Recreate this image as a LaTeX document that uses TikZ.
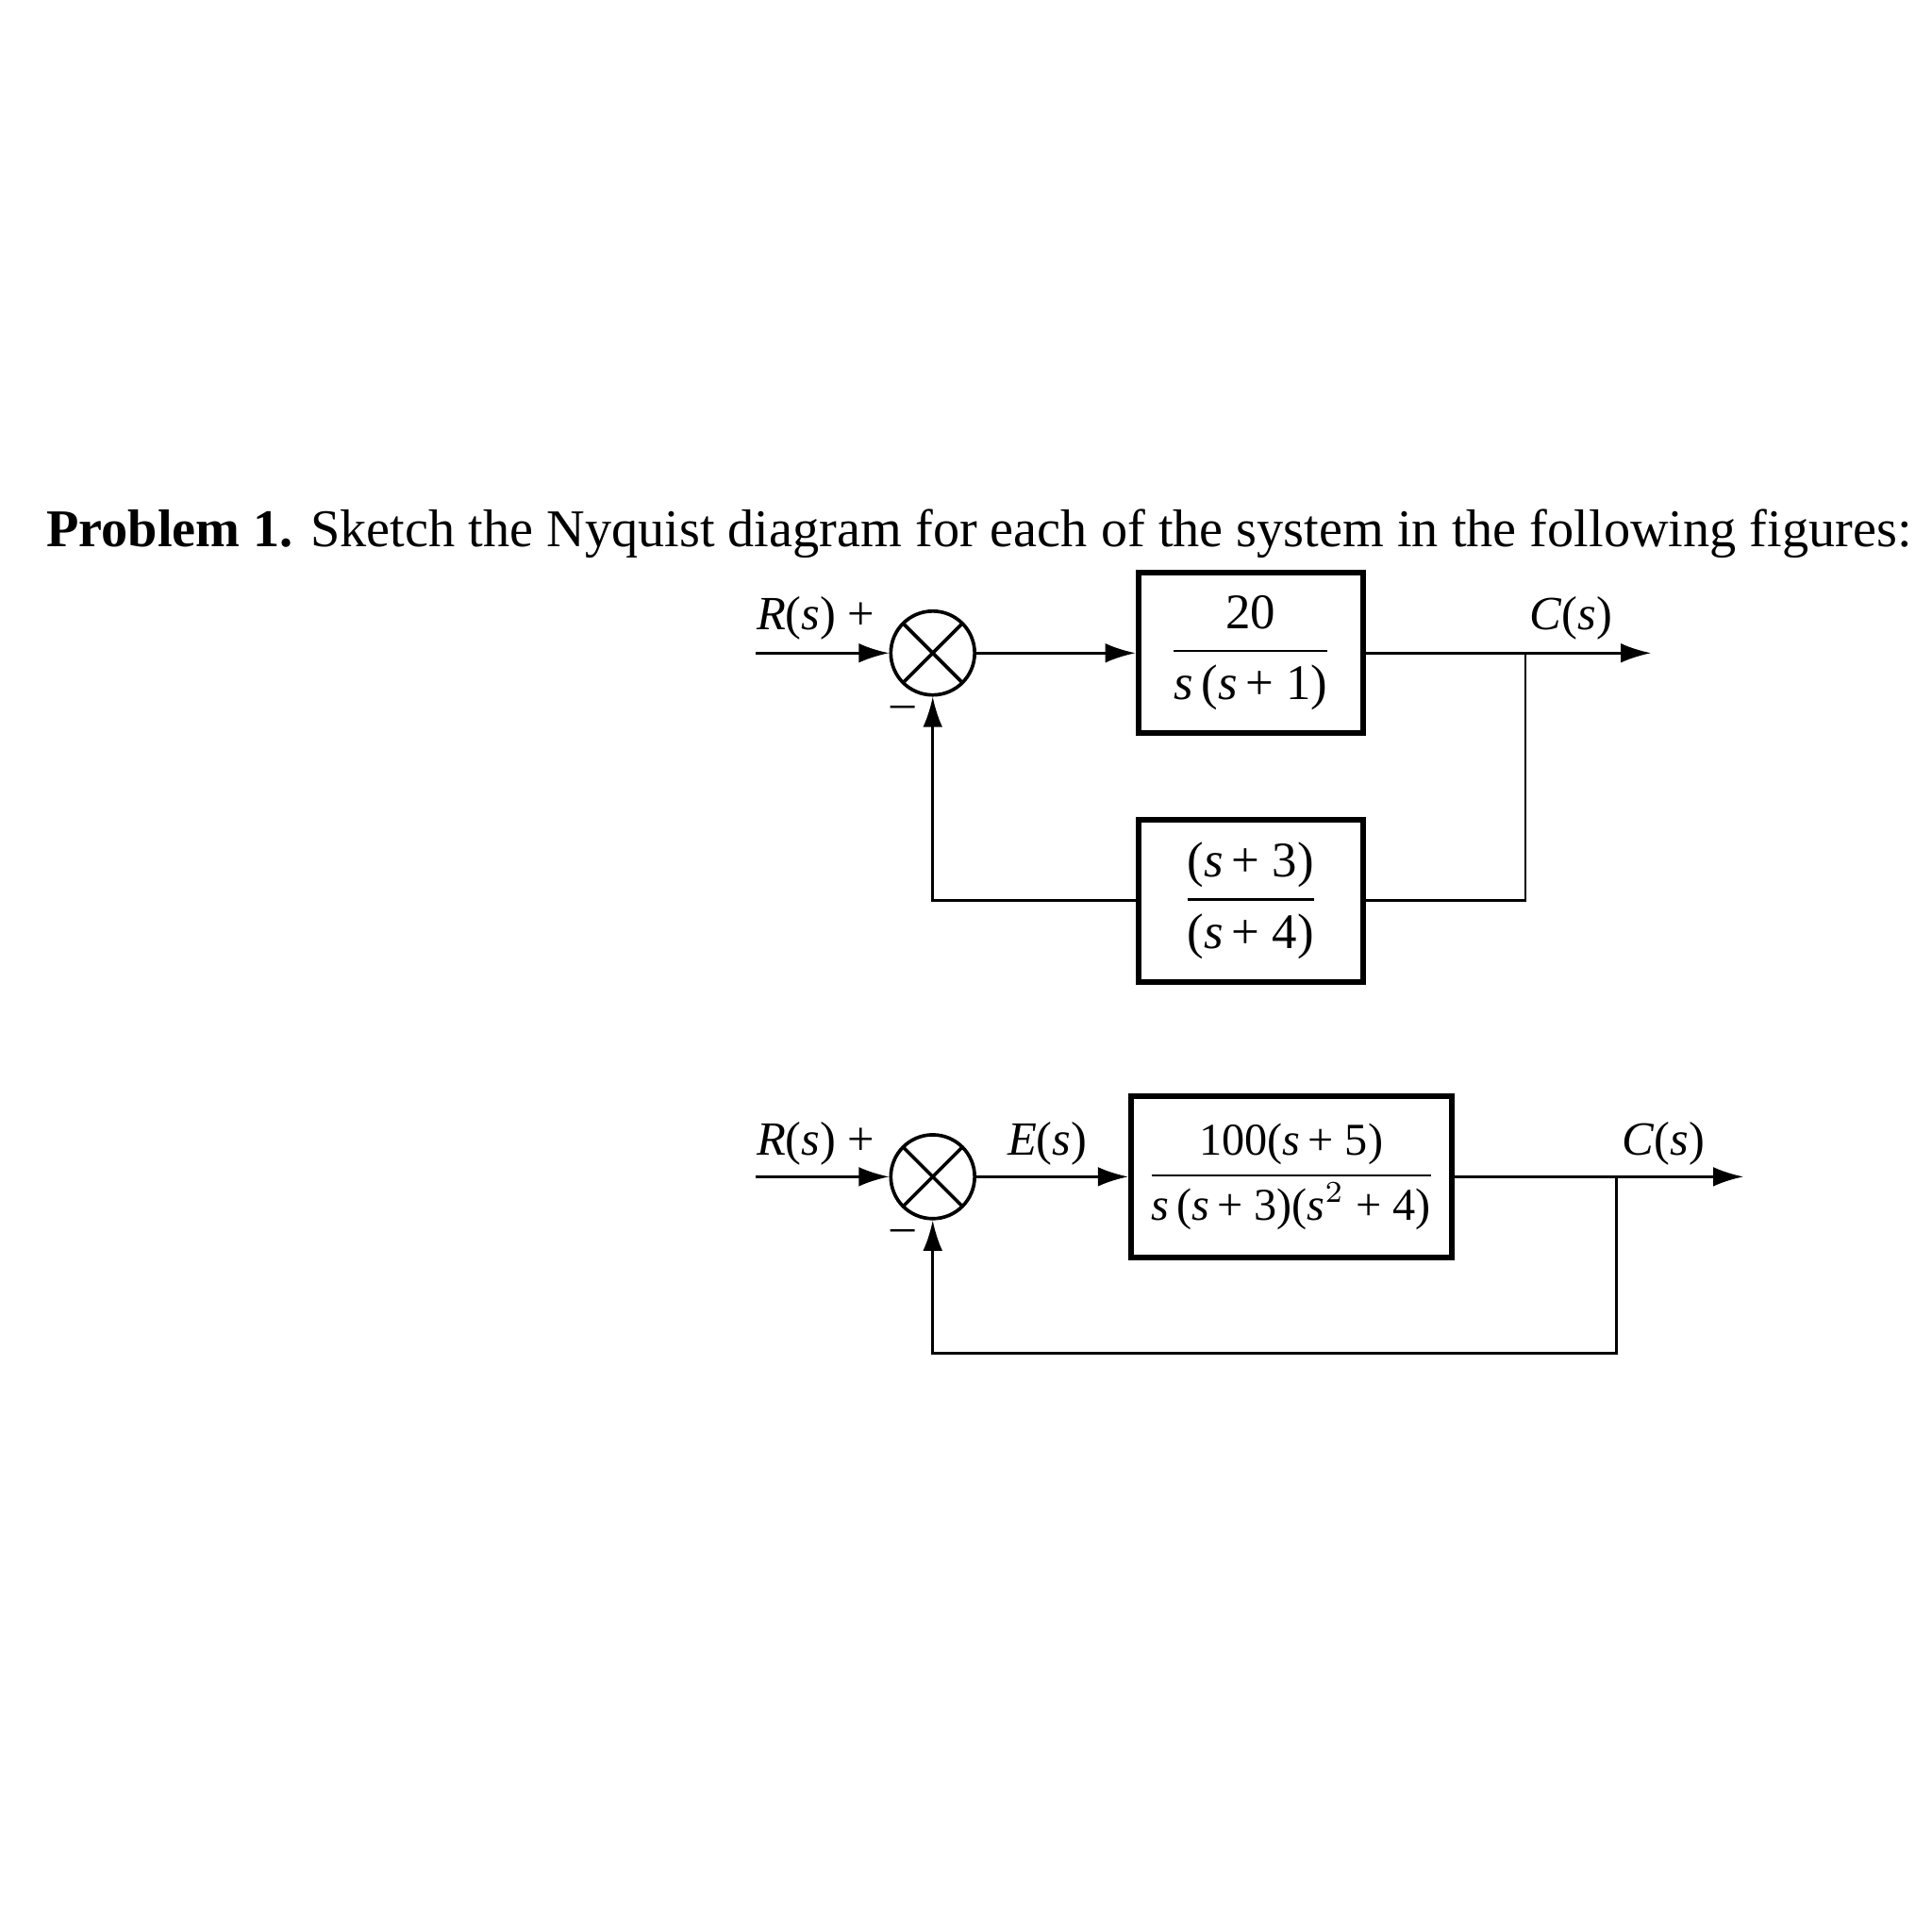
\documentclass[tikz,border=0pt]{standalone}
\usetikzlibrary{arrows.meta}
\usepackage{amsmath}
\usepackage{fontspec}
\setmainfont{Liberation Serif}
\newcommand\vs{\textit{s}}
\newcommand\fr[2]{\ensuremath{\dfrac{\text{#1}}{\text{#2}}}}
\begin{document}
\begin{tikzpicture}[x=0.01cm,y=-0.01cm,
  ln/.style={line width=0.6pt},
  arr/.style={ln,-{Latex[length=7pt,width=4.5pt]}},
  blk/.style={draw,line width=1.3pt,inner sep=0pt},
  sum/.style={draw,circle,line width=0.8pt,minimum size=0.68cm,inner sep=0pt,path picture={\draw[line width=0.8pt](path picture bounding box.south west)--(path picture bounding box.north east)(path picture bounding box.north west)--(path picture bounding box.south east);}},
  lab/.style={font=\fontsize{11}{13}\selectfont,inner sep=0pt},
  bt/.style={font=\fontsize{11.5}{14}\selectfont,inner sep=0pt}]
\useasboundingbox (0,0) rectangle (1568,1568);
\node[anchor=base west,inner sep=0pt] (title) at (37,444) {\resizebox{15.13cm}{!}{\textbf{Problem 1.} Sketch the Nyquist diagram for each of the system in the following figures:}};
% diagram 1
\node[sum] (s1) at (757,530) {};
\node[blk,minimum width=1.82cm,minimum height=1.3cm] (g1) at (1015,530) {};
\node[bt] at (g1) {\fr{20}{\vs\,(\vs\,+ 1)}};
\node[blk,minimum width=1.82cm,minimum height=1.32cm] (h1) at (1015,731) {};
\node[bt] at (h1) {\fr{(\vs\,+ 3)}{(\vs\,+ 4)}};
\coordinate (in1) at (613,530);
\coordinate (out1) at (1340,530);
\coordinate (b1) at (1238,530);
\draw[arr] (in1) -- (s1);
\draw[arr] (s1) -- (g1);
\draw[arr] (g1) -- (out1);
\draw[ln] (b1) |- (h1.east);
\draw[arr] (h1.west) -| (s1);
\node[lab] at (662,502) {\textit{R}(\vs) +};
\node[lab] at (733,578) {--};
\node[lab] at (1275,502) {\textit{C}(\vs)};
% diagram 2
\node[sum] (s2) at (757,955) {};
\node[blk,minimum width=2.6cm,minimum height=1.31cm] (g2) at (1048,955) {};
\node[font=\fontsize{10.5}{13}\selectfont,inner sep=0pt] at (g2) {\fr{100(\vs\,+ 5)}{\vs\,(\vs\,+ 3)(\vs$^2$ + 4)}};
\coordinate (in2) at (613,955);
\coordinate (out2) at (1415,955);
\coordinate (b2) at (1312,955);
\coordinate (fb2) at (1312,1098);
\draw[arr] (in2) -- (s2);
\draw[arr] (s2) -- (g2);
\draw[arr] (g2) -- (out2);
\draw[arr] (b2) -- (fb2) -| (s2);
\node[lab] at (662,928) {\textit{R}(\vs) +};
\node[lab] at (733,1003) {--};
\node[lab] at (850,928) {\textit{E}(\vs)};
\node[lab] at (1350,928) {\textit{C}(\vs)};
\end{tikzpicture}
\end{document}
